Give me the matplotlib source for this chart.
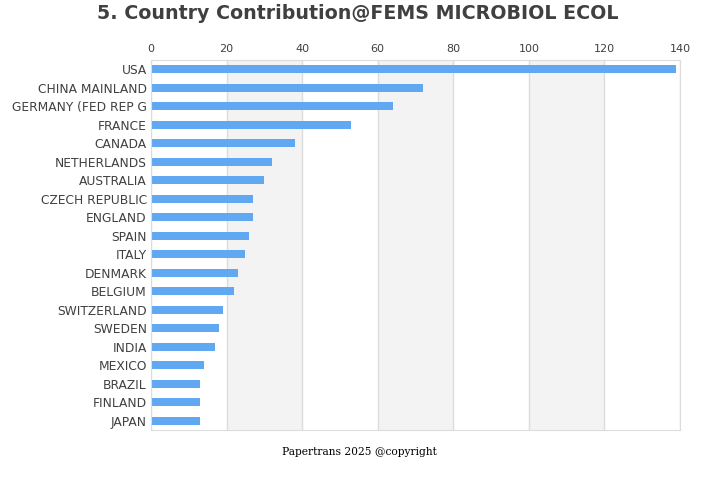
import matplotlib.pyplot as plt
import numpy as np

countries = ["USA", "CHINA MAINLAND", "GERMANY (FED REP G", "FRANCE", "CANADA",
             "NETHERLANDS", "AUSTRALIA", "CZECH REPUBLIC", "ENGLAND", "SPAIN",
             "ITALY", "DENMARK", "BELGIUM", "SWITZERLAND", "SWEDEN", "INDIA",
             "MEXICO", "BRAZIL", "FINLAND", "JAPAN"]
counts = [139, 72, 64, 53, 38, 32, 30, 27, 27, 26, 25, 23, 22, 19, 18, 17, 14, 13, 13, 13]
x_ticks = [0, 20, 40, 60, 80, 100, 120, 140]

fig = plt.figure(figsize=(7.2, 4.8), dpi=100)
ax = fig.add_axes([151 / 720, 50 / 480, 529 / 720, 370 / 480])

# alternating background bands
for i in range(len(x_ticks) - 1):
    if i % 2 == 1:
        ax.axvspan(x_ticks[i], x_ticks[i + 1], color="#f3f3f3", zorder=0, lw=0)
for t in x_ticks:
    ax.axvline(t, color="#dcdcdc", lw=1, zorder=1)

y = np.arange(len(countries))
ax.barh(y, counts, height=0.45, color="#60a8f2", zorder=2)

ax.set_xlim(0, 140)
ax.set_ylim(len(countries) - 0.5, -0.5)
ax.set_yticks(y)
ax.set_yticklabels(countries, fontsize=8.8, color="#404040")
ax.set_xticks(x_ticks)
ax.xaxis.tick_top()
ax.tick_params(axis="x", labelsize=8, colors="#404040", length=0, pad=4)
ax.tick_params(axis="y", length=0, pad=3)
for s in ax.spines.values():
    s.set_color("#dcdcdc")

fig.text(358 / 720, 0.972, "5. Country Contribution@FEMS MICROBIOL ECOL", ha="center", va="center",
         fontsize=13.7, fontweight="bold", color="#404040")
fig.text(359 / 720, 1 - 452 / 480, "Papertrans 2025 @copyright", ha="center", va="center",
         fontsize=7.7, family="serif", color="black")

fig.savefig("out.png", dpi=100)
